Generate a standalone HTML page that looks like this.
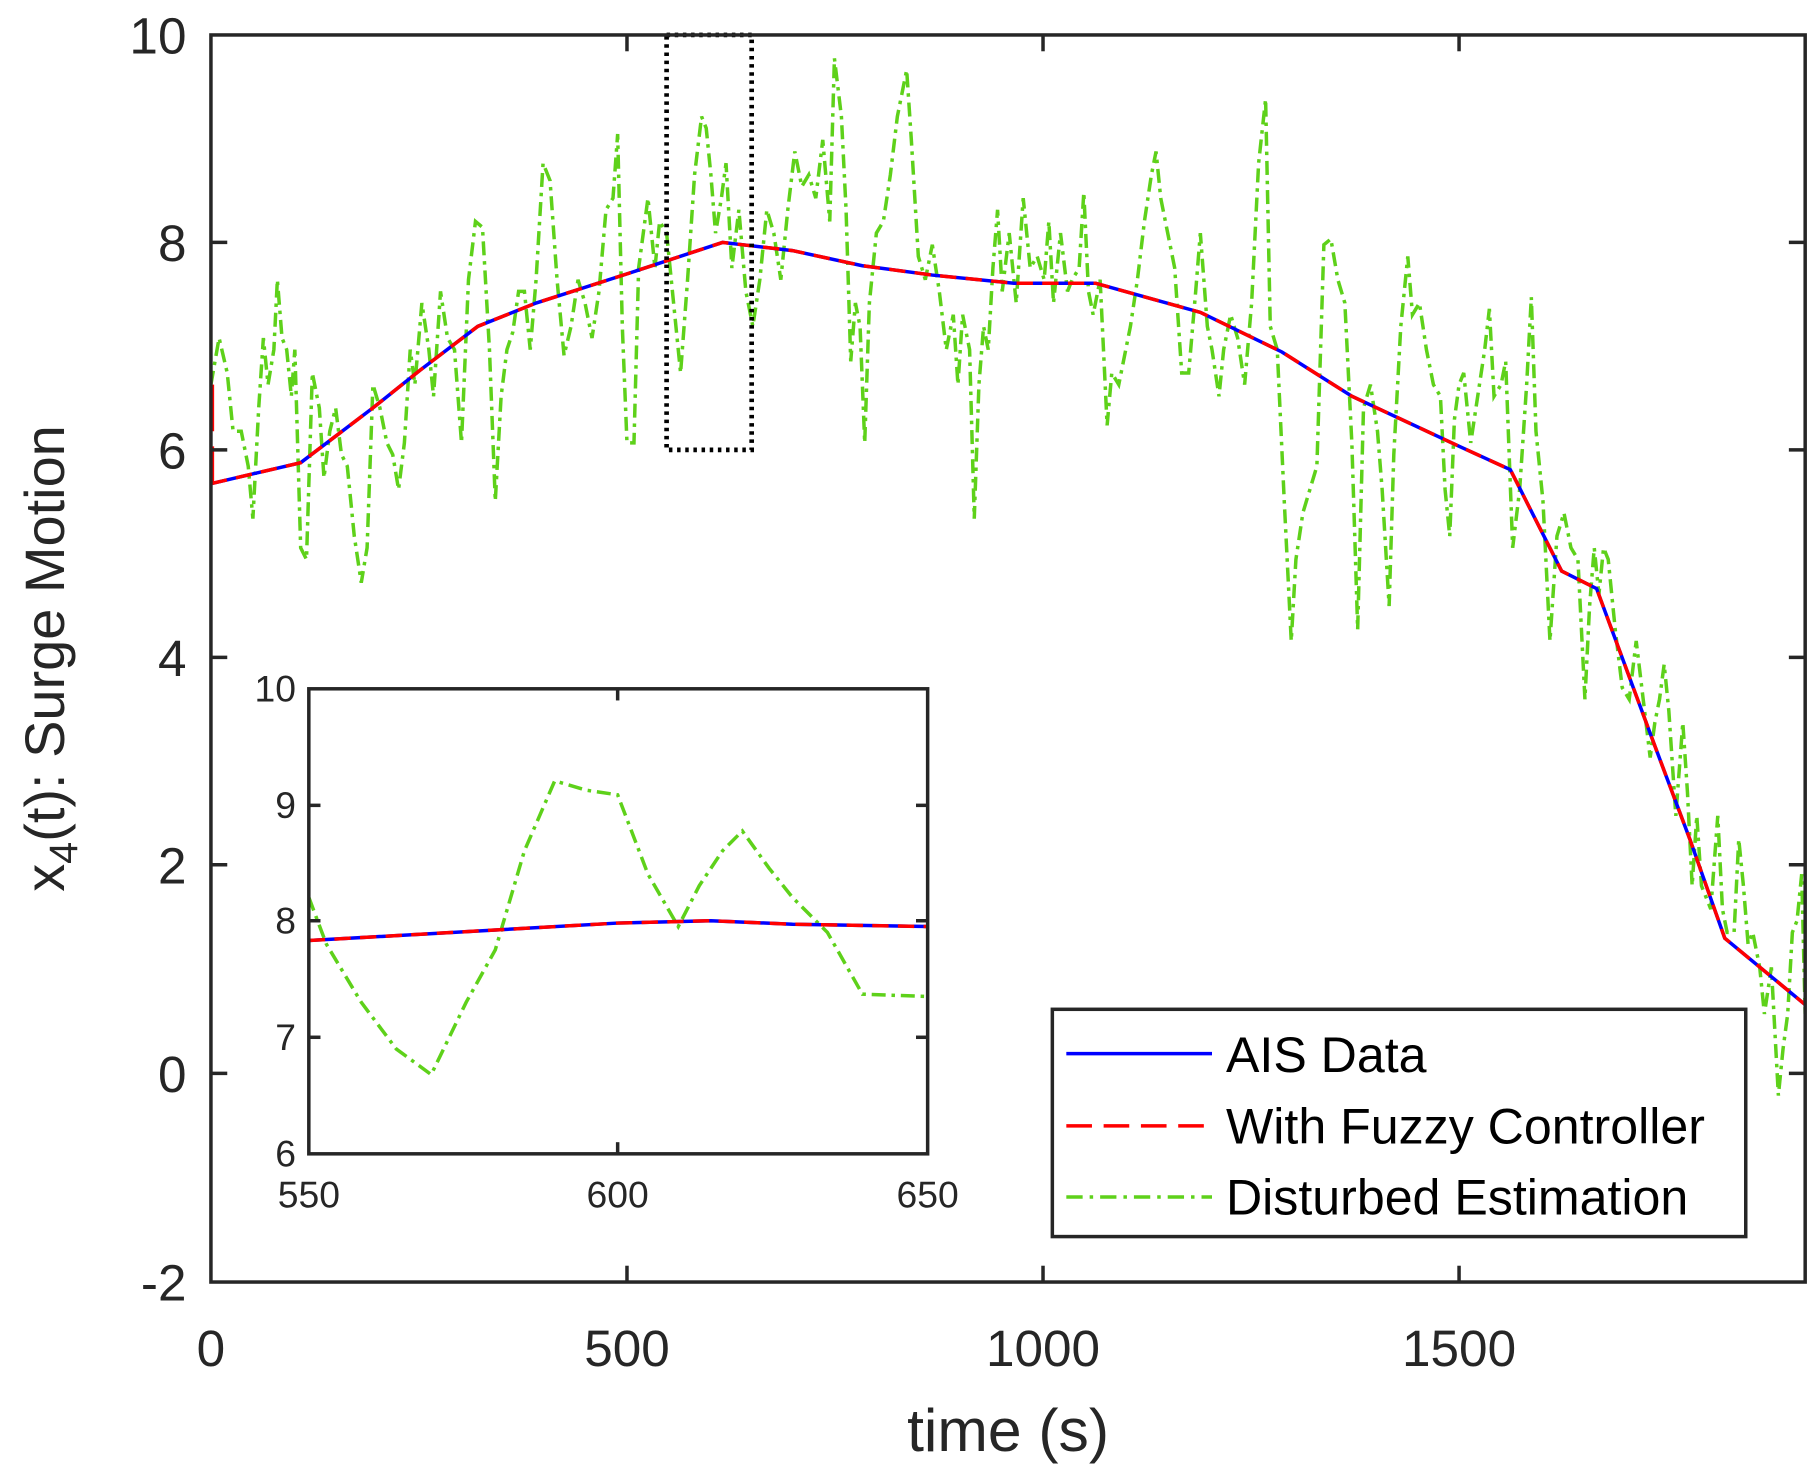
<!DOCTYPE html>
<html><head><meta charset="utf-8"><style>
html,body{margin:0;padding:0;background:#fff;}
svg{display:block;}
text{font-family:"Liberation Sans",Arial,sans-serif;fill:#262626;}
</style></head><body>
<svg width="1818" height="1479" viewBox="0 0 1560 1269" preserveAspectRatio="none" xmlns="http://www.w3.org/2000/svg">
<rect width="1560" height="1269" fill="#fff"/>
<defs><clipPath id="c"><rect x="181" y="30" width="1368" height="1070"/></clipPath>
<clipPath id="ci"><rect x="265" y="591" width="531" height="399"/></clipPath></defs>
<g clip-path="url(#c)">
<polyline fill="none" stroke="#5ed11a" stroke-width="3" stroke-dasharray="12 5 3 5" points="181,330 188,290 195,320 200,370 207,370 213,400 217,445 222,350 226,290 230,330 235,300 238,240 242,290 246,300 250,340 253,300 258,470 263,480 268,320 274,350 278,410 283,370 288,350 293,390 298,400 304,460 310,500 315,470 320,330 326,350 332,380 337,390 342,420 347,380 352,300 356,330 362,260 368,300 372,340 378,250 384,290 390,300 396,380 402,240 408,190 414,195 420,300 425,430 430,340 435,300 440,285 445,250 450,250 455,300 460,240 466,140 472,155 478,240 484,305 490,280 496,240 502,260 508,290 514,250 520,180 526,170 530,115 534,280 538,380 544,380 548,230 552,200 556,170 562,230 566,190 572,200 578,260 584,320 590,240 596,150 602,100 606,110 610,150 614,200 619,170 623,140 628,230 634,180 640,250 646,280 652,240 658,180 664,200 670,240 676,180 682,130 688,160 694,150 700,170 706,120 712,190 716,50 722,100 726,180 730,310 734,260 738,280 742,380 746,260 752,200 758,190 764,150 770,100 778,60 782,120 788,220 794,240 800,210 806,250 812,300 818,270 822,330 826,270 832,300 836,445 840,330 844,280 848,300 852,230 856,180 860,250 866,200 872,260 878,170 884,230 890,220 896,240 900,190 904,260 910,200 916,250 920,240 926,230 930,165 934,250 938,270 944,240 950,365 954,320 960,330 966,300 970,280 976,240 982,190 988,150 992,130 996,170 1002,200 1008,230 1014,320 1020,320 1026,250 1030,200 1036,280 1040,300 1046,340 1050,300 1056,270 1062,290 1068,330 1074,260 1080,140 1086,85 1090,280 1096,300 1102,430 1108,550 1112,480 1118,440 1124,420 1130,400 1136,210 1142,205 1148,240 1154,260 1160,380 1165,540 1170,350 1176,330 1182,370 1186,420 1192,520 1196,390 1202,280 1208,220 1212,270 1218,260 1224,300 1230,330 1236,340 1240,420 1244,460 1248,360 1252,330 1256,320 1262,380 1268,340 1274,300 1278,265 1282,340 1288,330 1292,310 1298,470 1304,420 1310,330 1314,255 1318,370 1324,430 1330,550 1336,460 1342,440 1348,470 1354,480 1360,600 1364,520 1368,470 1372,510 1376,470 1380,480 1386,540 1392,590 1398,600 1404,550 1410,600 1416,650 1420,620 1424,600 1428,570 1432,610 1438,700 1444,620 1448,680 1452,760 1456,700 1460,760 1464,770 1468,780 1474,700 1478,780 1482,800 1488,800 1492,720 1496,760 1500,810 1504,800 1510,830 1514,870 1520,830 1526,940 1530,900 1534,870 1538,800 1542,790 1546,750 1549,870"/>
<polyline fill="none" stroke="#0000ff" stroke-width="3" points="181,415 258,397 320,350 360,318 410,280 460,260 538,235 620,208 680,215 740,228 800,236 870,243 940,243 1030,268 1100,302 1160,340 1250,382 1296,403 1340,490 1370,505 1420,640 1450,720 1480,805 1549,862"/>
<polyline fill="none" stroke="#ff0000" stroke-width="3" stroke-dasharray="14 8" points="181,415 258,397 320,350 360,318 410,280 460,260 538,235 620,208 680,215 740,228 800,236 870,243 940,243 1030,268 1100,302 1160,340 1250,382 1296,403 1340,490 1370,505 1420,640 1450,720 1480,805 1549,862"/>
<line x1="182" y1="330" x2="182" y2="370" stroke="#f00" stroke-width="3.5"/>
<line x1="182" y1="383" x2="182" y2="415" stroke="#f00" stroke-width="3.5"/>
</g>
<rect x="572" y="30" width="73" height="356" fill="none" stroke="#000" stroke-width="4" stroke-dasharray="3 4"/>
<rect x="181" y="30" width="1368" height="1070" fill="none" stroke="#262626" stroke-width="3"/>
<g stroke="#262626" stroke-width="3">
<line x1="538" y1="1100" x2="538" y2="1086"/><line x1="895" y1="1100" x2="895" y2="1086"/><line x1="1252" y1="1100" x2="1252" y2="1086"/>
<line x1="538" y1="30" x2="538" y2="44"/><line x1="895" y1="30" x2="895" y2="44"/><line x1="1252" y1="30" x2="1252" y2="44"/>
<line x1="181" y1="208" x2="195" y2="208"/><line x1="181" y1="386" x2="195" y2="386"/><line x1="181" y1="564" x2="195" y2="564"/><line x1="181" y1="742" x2="195" y2="742"/><line x1="181" y1="921" x2="195" y2="921"/>
<line x1="1549" y1="208" x2="1535" y2="208"/><line x1="1549" y1="386" x2="1535" y2="386"/><line x1="1549" y1="564" x2="1535" y2="564"/><line x1="1549" y1="742" x2="1535" y2="742"/><line x1="1549" y1="921" x2="1535" y2="921"/>
</g>
<g font-size="44" text-anchor="end">
<text x="160" y="46">10</text><text x="160" y="224">8</text><text x="160" y="402">6</text><text x="160" y="580">4</text><text x="160" y="758">2</text><text x="160" y="937">0</text><text x="160" y="1116">-2</text>
</g>
<g font-size="44" text-anchor="middle">
<text x="181" y="1172">0</text><text x="538" y="1172">500</text><text x="895" y="1172">1000</text><text x="1252" y="1172">1500</text>
</g>
<text x="865" y="1245" font-size="52" text-anchor="middle">time (s)</text>
<text transform="translate(55,565) rotate(-90)" font-size="48" text-anchor="middle">x<tspan font-size="34" dy="11">4</tspan><tspan dy="-11">(t): Surge Motion</tspan></text>
<!-- inset -->
<rect x="265" y="591" width="531" height="399" fill="#fff"/>
<g clip-path="url(#ci)">
<polyline fill="none" stroke="#5ed11a" stroke-width="3" stroke-dasharray="12 5 3 5" points="265,770 280,810 310,860 340,900 370,922 400,860 425,815 450,730 476,670 503,678 530,682 556,750 582,795 600,760 620,730 637,713 660,745 680,770 710,800 740,853 796,855"/>
<polyline fill="none" stroke="#0000ff" stroke-width="3" points="265,807 530,792 610,790 680,793 796,795"/>
<polyline fill="none" stroke="#ff0000" stroke-width="3" stroke-dasharray="14 8" points="265,807 530,792 610,790 680,793 796,795"/>
</g>
<rect x="265" y="591" width="531" height="399" fill="none" stroke="#262626" stroke-width="3"/>
<g stroke="#262626" stroke-width="3">
<line x1="530" y1="990" x2="530" y2="980"/><line x1="530" y1="591" x2="530" y2="601"/>
<line x1="265" y1="691" x2="275" y2="691"/><line x1="265" y1="790" x2="275" y2="790"/><line x1="265" y1="890" x2="275" y2="890"/>
<line x1="796" y1="691" x2="786" y2="691"/><line x1="796" y1="790" x2="786" y2="790"/><line x1="796" y1="890" x2="786" y2="890"/>
</g>
<g font-size="32" text-anchor="end">
<text x="254" y="602">10</text><text x="254" y="702">9</text><text x="254" y="801">8</text><text x="254" y="901">7</text><text x="254" y="1001">6</text>
</g>
<g font-size="32" text-anchor="middle">
<text x="265" y="1036">550</text><text x="530" y="1036">600</text><text x="796" y="1036">650</text>
</g>
<!-- legend -->
<rect x="903" y="866" width="595" height="195" fill="#fff" stroke="#262626" stroke-width="3"/>
<line x1="915" y1="904" x2="1040" y2="904" stroke="#00f" stroke-width="3"/>
<line x1="915" y1="966" x2="1040" y2="966" stroke="#f00" stroke-width="3" stroke-dasharray="22 10"/>
<line x1="915" y1="1027" x2="1040" y2="1027" stroke="#5ed11a" stroke-width="3" stroke-dasharray="14 6 3 6"/>
<g font-size="43">
<text x="1052" y="920" style="fill:#000">AIS Data</text>
<text x="1052" y="981" style="fill:#000">With Fuzzy Controller</text>
<text x="1052" y="1042" style="fill:#000">Disturbed Estimation</text>
</g>
</svg>
</body></html>
